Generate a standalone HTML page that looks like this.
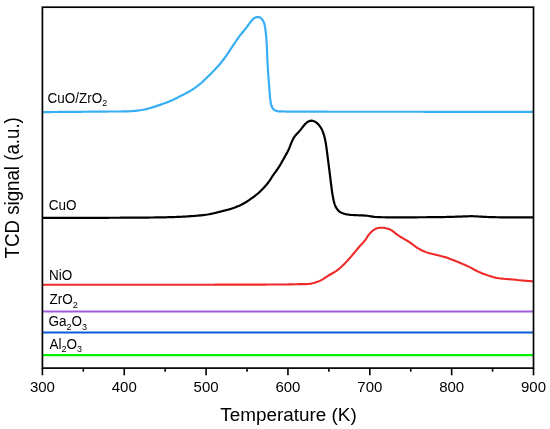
<!DOCTYPE html>
<html><head><meta charset="utf-8"><style>
html,body{margin:0;padding:0;background:#fff;}
svg{display:block;}
text{font-family:"Liberation Sans",Arial,sans-serif;fill:#000;}
</style></head><body>
<svg width="550" height="429" viewBox="0 0 550 429">
<rect x="0" y="0" width="550" height="429" fill="#fff"/>
<g fill="none" stroke-linejoin="round" stroke-linecap="butt">
<line x1="42.4" y1="355.1" x2="533.5" y2="355.1" stroke="#00f000" stroke-width="2.2"/>
<line x1="42.4" y1="332.4" x2="533.5" y2="332.4" stroke="#0c5cd8" stroke-width="2"/>
<line x1="42.4" y1="311.6" x2="533.5" y2="311.6" stroke="#a05ada" stroke-width="2"/>
<path d="M42.40,284.80 L43.91,284.80 L45.41,284.80 L46.92,284.80 L48.44,284.80 L49.95,284.80 L51.48,284.79 L53.00,284.79 L54.53,284.79 L56.06,284.79 L57.59,284.79 L59.13,284.79 L60.67,284.79 L62.21,284.79 L63.75,284.79 L65.30,284.79 L66.85,284.79 L68.40,284.79 L69.95,284.79 L71.51,284.79 L73.06,284.79 L74.62,284.79 L76.18,284.78 L77.74,284.78 L79.31,284.78 L80.87,284.78 L82.44,284.78 L84.00,284.78 L85.57,284.78 L87.14,284.78 L88.71,284.78 L90.28,284.78 L91.85,284.78 L93.42,284.78 L94.99,284.78 L96.56,284.78 L98.13,284.78 L99.70,284.78 L101.27,284.78 L102.84,284.78 L104.41,284.78 L105.98,284.78 L107.54,284.78 L109.11,284.78 L110.68,284.78 L112.24,284.77 L113.81,284.77 L115.37,284.77 L116.93,284.77 L118.49,284.77 L120.05,284.77 L121.61,284.77 L123.16,284.77 L124.72,284.77 L126.27,284.77 L127.82,284.77 L129.36,284.77 L130.91,284.77 L132.45,284.77 L133.99,284.77 L135.52,284.77 L137.06,284.77 L138.59,284.77 L140.12,284.76 L141.64,284.76 L143.16,284.76 L144.68,284.76 L146.19,284.76 L147.70,284.76 L149.21,284.76 L150.71,284.76 L152.21,284.76 L153.71,284.76 L155.20,284.76 L156.68,284.75 L158.16,284.75 L159.64,284.75 L161.11,284.75 L162.58,284.75 L164.05,284.75 L165.50,284.75 L166.96,284.75 L168.40,284.74 L169.85,284.74 L171.28,284.74 L172.71,284.74 L174.14,284.74 L175.56,284.74 L176.97,284.74 L178.38,284.73 L179.78,284.73 L181.18,284.73 L182.57,284.73 L183.95,284.73 L185.33,284.72 L186.70,284.72 L188.06,284.72 L189.41,284.72 L190.76,284.72 L192.10,284.71 L193.44,284.71 L194.76,284.71 L196.08,284.71 L197.40,284.70 L198.75,284.70 L200.20,284.70 L201.77,284.70 L203.45,284.69 L205.18,284.69 L206.92,284.69 L208.67,284.68 L210.42,284.68 L212.18,284.68 L213.95,284.68 L215.72,284.67 L217.49,284.67 L219.27,284.67 L221.04,284.67 L222.82,284.66 L224.59,284.66 L226.37,284.66 L228.14,284.66 L229.91,284.65 L231.67,284.65 L233.43,284.65 L235.18,284.65 L236.93,284.65 L238.67,284.64 L240.40,284.64 L242.12,284.64 L243.82,284.63 L245.52,284.63 L247.21,284.63 L248.88,284.62 L250.54,284.62 L252.18,284.62 L253.81,284.61 L255.41,284.61 L257.01,284.61 L258.58,284.60 L260.13,284.60 L261.67,284.59 L263.18,284.59 L264.67,284.58 L266.13,284.58 L267.58,284.57 L268.99,284.57 L270.38,284.56 L271.75,284.56 L273.09,284.55 L274.39,284.54 L275.67,284.54 L276.92,284.53 L278.14,284.52 L279.32,284.51 L280.47,284.50 L281.59,284.50 L282.67,284.49 L283.72,284.48 L284.73,284.47 L285.70,284.46 L286.64,284.45 L287.53,284.44 L288.41,284.42 L289.38,284.41 L290.64,284.38 L292.22,284.34 L293.95,284.29 L295.59,284.24 L297.11,284.19 L298.57,284.15 L300.06,284.13 L301.57,284.13 L303.10,284.15 L304.61,284.16 L306.11,284.13 L307.62,284.03 L309.15,283.86 L310.69,283.62 L312.22,283.31 L313.73,282.96 L315.24,282.55 L316.75,282.08 L318.25,281.54 L319.74,280.92 L321.22,280.18 L322.71,279.31 L324.20,278.33 L325.69,277.32 L327.14,276.37 L328.50,275.52 L329.83,274.76 L331.15,274.02 L332.49,273.28 L333.82,272.50 L335.13,271.69 L336.42,270.82 L337.71,269.87 L338.99,268.85 L340.24,267.78 L341.47,266.68 L342.67,265.56 L343.85,264.42 L344.99,263.28 L346.10,262.13 L347.19,260.95 L348.27,259.76 L349.35,258.55 L350.43,257.32 L351.51,256.07 L352.61,254.79 L353.70,253.49 L354.80,252.17 L355.89,250.84 L356.97,249.54 L358.04,248.26 L359.11,247.02 L360.18,245.82 L361.25,244.65 L362.30,243.52 L363.31,242.39 L364.27,241.26 L365.19,240.08 L366.06,238.83 L366.89,237.54 L367.74,236.23 L368.69,234.91 L369.78,233.56 L371.02,232.24 L372.34,231.02 L373.74,229.95 L375.18,229.06 L376.67,228.39 L378.23,227.95 L379.88,227.73 L381.64,227.69 L383.45,227.82 L385.21,228.06 L386.86,228.41 L388.39,228.85 L389.85,229.42 L391.27,230.16 L392.69,231.10 L394.10,232.19 L395.52,233.31 L396.93,234.37 L398.34,235.36 L399.78,236.31 L401.26,237.24 L402.75,238.15 L404.24,239.03 L405.72,239.89 L407.20,240.75 L408.67,241.65 L410.13,242.60 L411.58,243.64 L413.03,244.72 L414.46,245.80 L415.90,246.83 L417.34,247.78 L418.78,248.67 L420.23,249.49 L421.67,250.24 L423.10,250.93 L424.53,251.55 L425.98,252.12 L427.43,252.63 L428.88,253.08 L430.32,253.47 L431.80,253.84 L433.30,254.19 L434.84,254.56 L436.43,254.94 L438.12,255.34 L439.86,255.77 L441.61,256.20 L443.31,256.65 L444.93,257.12 L446.47,257.60 L447.95,258.11 L449.41,258.64 L450.87,259.19 L452.34,259.75 L453.83,260.33 L455.35,260.92 L456.90,261.54 L458.45,262.17 L460.00,262.80 L461.54,263.45 L463.08,264.10 L464.61,264.76 L466.13,265.43 L467.63,266.13 L469.11,266.85 L470.58,267.61 L472.03,268.41 L473.47,269.21 L474.92,270.00 L476.39,270.75 L477.87,271.46 L479.36,272.13 L480.88,272.78 L482.42,273.41 L483.95,274.00 L485.48,274.58 L486.99,275.12 L488.49,275.63 L489.98,276.12 L491.48,276.57 L492.99,276.99 L494.50,277.36 L496.01,277.69 L497.52,277.96 L499.04,278.21 L500.56,278.42 L502.08,278.61 L503.60,278.78 L505.11,278.93 L506.63,279.06 L508.15,279.17 L509.67,279.28 L511.18,279.39 L512.69,279.52 L514.19,279.66 L515.69,279.82 L517.19,279.99 L518.70,280.17 L520.25,280.33 L521.82,280.49 L523.42,280.63 L525.06,280.77 L526.73,280.90 L528.41,281.03 L530.11,281.15 L531.81,281.27 L533.50,281.40" stroke="#ee2a2a" stroke-width="2.1"/>
<path d="M42.40,217.80 L43.92,217.80 L45.45,217.80 L46.98,217.80 L48.52,217.80 L50.06,217.80 L51.61,217.80 L53.16,217.80 L54.71,217.80 L56.27,217.81 L57.83,217.81 L59.39,217.81 L60.95,217.81 L62.51,217.81 L64.07,217.81 L65.63,217.81 L67.19,217.81 L68.75,217.81 L70.30,217.82 L71.85,217.82 L73.40,217.82 L74.94,217.82 L76.48,217.82 L78.02,217.82 L79.54,217.82 L81.06,217.82 L82.58,217.82 L84.09,217.82 L85.58,217.82 L87.07,217.82 L88.55,217.82 L90.02,217.82 L91.48,217.81 L92.93,217.81 L94.37,217.81 L95.79,217.81 L97.21,217.81 L98.64,217.80 L100.13,217.80 L101.71,217.80 L103.34,217.79 L104.99,217.79 L106.64,217.78 L108.28,217.78 L109.91,217.77 L111.53,217.76 L113.14,217.76 L114.74,217.75 L116.33,217.75 L117.91,217.74 L119.48,217.73 L121.03,217.72 L122.57,217.72 L124.10,217.71 L125.62,217.70 L127.12,217.69 L128.61,217.68 L130.09,217.67 L131.55,217.66 L132.99,217.65 L134.42,217.64 L135.84,217.63 L137.24,217.62 L138.67,217.61 L140.17,217.60 L141.77,217.59 L143.44,217.57 L145.12,217.56 L146.79,217.54 L148.44,217.53 L150.07,217.51 L151.67,217.50 L153.24,217.48 L154.80,217.46 L156.33,217.45 L157.83,217.43 L159.31,217.40 L160.77,217.38 L162.20,217.36 L163.64,217.33 L165.12,217.30 L166.65,217.26 L168.21,217.22 L169.75,217.18 L171.25,217.13 L172.72,217.09 L174.18,217.04 L175.62,216.98 L177.07,216.93 L178.54,216.86 L180.02,216.80 L181.52,216.73 L183.03,216.65 L184.55,216.57 L186.07,216.49 L187.59,216.41 L189.10,216.32 L190.60,216.22 L192.08,216.12 L193.57,216.01 L195.08,215.89 L196.64,215.76 L198.24,215.62 L199.83,215.47 L201.41,215.32 L202.95,215.15 L204.45,214.98 L205.96,214.77 L207.54,214.53 L209.23,214.23 L210.98,213.88 L212.71,213.50 L214.36,213.12 L215.92,212.74 L217.41,212.36 L218.88,211.97 L220.34,211.59 L221.80,211.21 L223.26,210.85 L224.72,210.50 L226.18,210.15 L227.64,209.77 L229.11,209.37 L230.57,208.93 L232.03,208.46 L233.49,207.96 L234.95,207.44 L236.40,206.88 L237.85,206.29 L239.30,205.67 L240.74,205.01 L242.18,204.30 L243.62,203.53 L245.08,202.68 L246.54,201.77 L248.00,200.81 L249.43,199.83 L250.80,198.86 L252.12,197.93 L253.38,197.02 L254.62,196.11 L255.84,195.19 L257.04,194.23 L258.23,193.22 L259.43,192.13 L260.62,191.00 L261.77,189.83 L262.91,188.66 L264.02,187.46 L265.14,186.25 L266.23,185.00 L267.29,183.73 L268.30,182.45 L269.23,181.17 L270.10,179.88 L270.95,178.55 L271.80,177.22 L272.66,175.90 L273.55,174.59 L274.46,173.31 L275.40,172.04 L276.34,170.77 L277.26,169.50 L278.14,168.21 L278.99,166.92 L279.79,165.60 L280.58,164.28 L281.34,162.96 L282.09,161.65 L282.84,160.33 L283.59,159.00 L284.34,157.66 L285.07,156.33 L285.81,154.99 L286.54,153.65 L287.27,152.29 L287.97,150.91 L288.65,149.50 L289.27,148.06 L289.86,146.60 L290.44,145.12 L291.03,143.64 L291.65,142.14 L292.32,140.64 L293.03,139.16 L293.81,137.73 L294.73,136.38 L295.81,135.07 L297.01,133.78 L298.25,132.47 L299.50,131.08 L300.71,129.62 L301.84,128.17 L302.87,126.81 L303.86,125.54 L304.87,124.36 L305.97,123.25 L307.16,122.26 L308.51,121.42 L310.02,120.85 L311.69,120.68 L313.40,120.98 L315.01,121.68 L316.42,122.61 L317.65,123.69 L318.76,124.87 L319.80,126.15 L320.76,127.52 L321.62,129.02 L322.39,130.62 L323.05,132.29 L323.61,133.93 L324.08,135.49 L324.48,136.99 L324.84,138.48 L325.17,139.99 L325.47,141.52 L325.74,143.07 L326.00,144.67 L326.25,146.30 L326.48,147.93 L326.71,149.55 L326.93,151.17 L327.14,152.81 L327.36,154.48 L327.57,156.17 L327.78,157.87 L328.00,159.56 L328.21,161.22 L328.42,162.88 L328.63,164.54 L328.85,166.21 L329.06,167.88 L329.28,169.56 L329.49,171.23 L329.70,172.89 L329.90,174.54 L330.10,176.18 L330.30,177.82 L330.49,179.45 L330.69,181.08 L330.89,182.70 L331.10,184.32 L331.31,185.95 L331.52,187.60 L331.74,189.28 L331.97,190.94 L332.20,192.60 L332.45,194.22 L332.72,195.83 L333.02,197.42 L333.34,199.00 L333.68,200.58 L334.06,202.13 L334.47,203.63 L334.97,205.10 L335.63,206.62 L336.49,208.20 L337.56,209.73 L338.84,211.06 L340.29,212.13 L341.89,212.95 L343.59,213.58 L345.35,214.05 L347.16,214.40 L348.98,214.66 L350.78,214.86 L352.52,215.01 L354.21,215.11 L355.87,215.19 L357.56,215.25 L359.32,215.30 L361.18,215.36 L363.11,215.44 L365.08,215.57 L367.04,215.77 L368.97,216.02 L370.84,216.31 L372.65,216.59 L374.41,216.83 L376.14,217.00 L377.84,217.11 L379.38,217.17 L380.62,217.21 L381.63,217.23 L382.59,217.25 L383.61,217.26 L384.70,217.27 L385.88,217.28 L387.13,217.29 L388.45,217.30 L389.84,217.31 L391.28,217.31 L392.78,217.32 L394.33,217.32 L395.92,217.33 L397.56,217.33 L399.23,217.33 L400.94,217.33 L402.67,217.32 L404.43,217.32 L406.21,217.32 L408.00,217.31 L409.80,217.31 L411.61,217.30 L413.42,217.30 L415.23,217.29 L417.02,217.28 L418.81,217.27 L420.57,217.26 L422.32,217.25 L424.04,217.24 L425.73,217.23 L427.38,217.22 L429.00,217.21 L430.57,217.20 L432.09,217.18 L433.56,217.17 L434.97,217.16 L436.31,217.14 L437.61,217.13 L438.91,217.11 L440.34,217.09 L441.95,217.07 L443.67,217.04 L445.40,217.01 L447.06,216.97 L448.66,216.93 L450.20,216.89 L451.69,216.85 L453.14,216.81 L454.55,216.77 L455.94,216.72 L457.31,216.68 L458.69,216.64 L460.13,216.59 L461.63,216.54 L463.16,216.47 L464.67,216.41 L466.15,216.34 L467.60,216.28 L469.05,216.24 L470.53,216.22 L472.05,216.22 L473.61,216.26 L475.20,216.32 L476.80,216.40 L478.42,216.50 L480.04,216.61 L481.68,216.71 L483.31,216.81 L484.89,216.89 L486.39,216.95 L487.83,217.01 L489.24,217.05 L490.65,217.10 L492.09,217.14 L493.56,217.18 L495.08,217.21 L496.65,217.24 L498.25,217.27 L499.79,217.29 L501.22,217.31 L502.57,217.32 L503.93,217.33 L505.31,217.34 L506.74,217.35 L508.20,217.35 L509.70,217.35 L511.22,217.35 L512.77,217.35 L514.34,217.35 L515.93,217.34 L517.53,217.34 L519.14,217.34 L520.76,217.33 L522.38,217.32 L524.00,217.32 L525.61,217.31 L527.22,217.31 L528.81,217.31 L530.39,217.30 L531.95,217.30 L533.50,217.30" stroke="#000" stroke-width="2.2"/>
<path d="M42.40,112.10 L43.91,112.09 L45.42,112.08 L46.94,112.06 L48.46,112.05 L49.99,112.04 L51.52,112.03 L53.05,112.02 L54.58,112.01 L56.11,111.99 L57.64,111.98 L59.17,111.97 L60.70,111.96 L62.22,111.95 L63.75,111.93 L65.26,111.92 L66.77,111.91 L68.28,111.90 L69.77,111.89 L71.26,111.87 L72.74,111.86 L74.22,111.85 L75.68,111.84 L77.13,111.83 L78.59,111.81 L80.08,111.80 L81.63,111.78 L83.23,111.77 L84.86,111.75 L86.50,111.74 L88.15,111.72 L89.79,111.70 L91.43,111.68 L93.07,111.66 L94.68,111.65 L96.28,111.63 L97.85,111.61 L99.39,111.59 L100.89,111.58 L102.35,111.56 L103.76,111.55 L105.12,111.54 L106.43,111.53 L107.68,111.52 L108.94,111.51 L110.30,111.50 L111.79,111.50 L113.33,111.50 L114.82,111.50 L116.26,111.51 L117.69,111.50 L119.14,111.49 L120.63,111.48 L122.13,111.46 L123.65,111.43 L125.17,111.40 L126.68,111.35 L128.20,111.29 L129.72,111.23 L131.24,111.16 L132.75,111.07 L134.27,110.97 L135.79,110.84 L137.30,110.67 L138.82,110.48 L140.34,110.26 L141.86,110.01 L143.38,109.73 L144.89,109.42 L146.41,109.07 L147.92,108.69 L149.44,108.27 L150.96,107.83 L152.48,107.36 L153.99,106.88 L155.50,106.40 L157.00,105.91 L158.51,105.41 L160.01,104.90 L161.51,104.38 L163.01,103.84 L164.52,103.28 L166.05,102.70 L167.60,102.10 L169.14,101.49 L170.67,100.86 L172.18,100.21 L173.70,99.51 L175.27,98.75 L176.85,97.95 L178.44,97.13 L180.03,96.31 L181.66,95.49 L183.29,94.67 L184.91,93.86 L186.46,93.04 L187.91,92.25 L189.29,91.46 L190.64,90.66 L191.97,89.83 L193.31,88.97 L194.64,88.08 L195.97,87.16 L197.28,86.20 L198.57,85.22 L199.81,84.22 L200.99,83.22 L202.12,82.21 L203.22,81.18 L204.32,80.13 L205.41,79.06 L206.51,77.99 L207.63,76.90 L208.74,75.80 L209.86,74.69 L210.98,73.56 L212.09,72.43 L213.20,71.29 L214.31,70.15 L215.42,68.99 L216.53,67.82 L217.62,66.64 L218.70,65.44 L219.75,64.22 L220.76,63.01 L221.74,61.78 L222.71,60.54 L223.67,59.28 L224.62,58.00 L225.56,56.69 L226.51,55.36 L227.46,53.99 L228.40,52.58 L229.35,51.15 L230.28,49.71 L231.22,48.27 L232.16,46.83 L233.10,45.42 L234.03,44.02 L234.97,42.64 L235.90,41.26 L236.84,39.90 L237.79,38.55 L238.74,37.23 L239.70,35.94 L240.66,34.70 L241.63,33.49 L242.61,32.30 L243.59,31.13 L244.55,29.97 L245.50,28.80 L246.46,27.58 L247.44,26.28 L248.42,24.93 L249.38,23.59 L250.36,22.25 L251.44,20.85 L252.68,19.44 L254.09,18.19 L255.59,17.34 L257.11,16.97 L258.57,17.05 L259.93,17.53 L261.17,18.34 L262.27,19.48 L263.21,20.93 L263.95,22.65 L264.51,24.50 L264.90,26.35 L265.19,28.07 L265.41,29.69 L265.60,31.28 L265.78,32.87 L265.96,34.49 L266.13,36.14 L266.29,37.82 L266.43,39.54 L266.56,41.28 L266.68,43.04 L266.78,44.74 L266.85,46.31 L266.92,47.80 L266.97,49.29 L267.02,50.83 L267.07,52.40 L267.12,53.99 L267.18,55.58 L267.24,57.16 L267.31,58.75 L267.39,60.35 L267.48,61.97 L267.57,63.60 L267.67,65.22 L267.77,66.85 L267.88,68.48 L267.99,70.13 L268.10,71.78 L268.21,73.43 L268.33,75.08 L268.45,76.74 L268.57,78.41 L268.69,80.09 L268.82,81.76 L268.95,83.42 L269.07,85.08 L269.20,86.75 L269.33,88.44 L269.46,90.17 L269.59,91.90 L269.72,93.61 L269.85,95.27 L270.00,96.87 L270.16,98.44 L270.37,100.09 L270.63,101.84 L270.97,103.66 L271.41,105.46 L272.03,107.18 L272.93,108.70 L274.15,109.88 L275.66,110.68 L277.35,111.12 L279.12,111.32 L280.84,111.40 L282.41,111.44 L283.86,111.48 L285.31,111.50 L286.82,111.53 L288.39,111.54 L290.01,111.56 L291.65,111.57 L293.28,111.59 L294.84,111.60 L296.29,111.61 L297.63,111.62 L298.92,111.63 L300.19,111.64 L301.48,111.65 L302.80,111.66 L304.19,111.66 L305.66,111.67 L307.25,111.68 L308.97,111.68 L310.82,111.69 L312.68,111.69 L314.31,111.70 L315.54,111.70 L316.44,111.70 L317.22,111.71 L317.99,111.71 L318.79,111.71 L319.61,111.71 L320.45,111.71 L321.31,111.71 L322.19,111.72 L323.09,111.72 L324.01,111.72 L324.95,111.72 L325.91,111.72 L326.89,111.72 L327.89,111.73 L328.91,111.73 L329.94,111.73 L331.00,111.73 L332.07,111.73 L333.16,111.73 L334.27,111.73 L335.39,111.73 L336.53,111.74 L337.69,111.74 L338.87,111.74 L340.06,111.74 L341.27,111.74 L342.50,111.74 L343.74,111.74 L344.99,111.74 L346.26,111.74 L347.55,111.75 L348.85,111.75 L350.17,111.75 L351.50,111.75 L352.84,111.75 L354.20,111.75 L355.58,111.75 L356.96,111.75 L358.36,111.75 L359.77,111.75 L361.20,111.75 L362.64,111.76 L364.09,111.76 L365.55,111.76 L367.02,111.76 L368.51,111.76 L370.01,111.76 L371.52,111.76 L373.04,111.76 L374.57,111.76 L376.11,111.76 L377.66,111.76 L379.22,111.76 L380.79,111.76 L382.37,111.76 L383.96,111.76 L385.56,111.77 L387.17,111.77 L388.78,111.77 L390.41,111.77 L392.04,111.77 L393.68,111.77 L395.33,111.77 L396.99,111.77 L398.65,111.77 L400.32,111.77 L402.00,111.77 L403.69,111.77 L405.38,111.77 L407.07,111.77 L408.78,111.77 L410.48,111.77 L412.20,111.77 L413.92,111.77 L415.64,111.77 L417.37,111.77 L419.10,111.77 L420.84,111.77 L422.58,111.77 L424.33,111.78 L426.08,111.78 L427.83,111.78 L429.59,111.78 L431.34,111.78 L433.11,111.78 L434.87,111.78 L436.64,111.78 L438.40,111.78 L440.17,111.78 L441.94,111.78 L443.72,111.78 L445.49,111.78 L447.27,111.78 L449.04,111.78 L450.82,111.78 L452.59,111.78 L454.37,111.78 L456.14,111.78 L457.92,111.78 L459.69,111.78 L461.46,111.78 L463.24,111.78 L465.01,111.78 L466.78,111.78 L468.54,111.78 L470.31,111.78 L472.07,111.78 L473.83,111.78 L475.59,111.78 L477.34,111.78 L479.09,111.78 L480.84,111.78 L482.58,111.78 L484.32,111.79 L486.05,111.79 L487.78,111.79 L489.51,111.79 L491.23,111.79 L492.95,111.79 L494.66,111.79 L496.36,111.79 L498.06,111.79 L499.75,111.79 L501.44,111.79 L503.12,111.79 L504.79,111.79 L506.46,111.79 L508.12,111.79 L509.77,111.79 L511.41,111.79 L513.05,111.79 L514.68,111.79 L516.30,111.79 L517.91,111.79 L519.51,111.79 L521.10,111.80 L522.69,111.80 L524.26,111.80 L525.82,111.80 L527.38,111.80 L528.92,111.80 L530.46,111.80 L531.98,111.80 L533.50,111.80" stroke="#38aef4" stroke-width="2.2"/>
</g>
<rect x="42.4" y="7.2" width="491.1" height="360.9" fill="none" stroke="#000" stroke-width="1.7"/>
<g stroke="#000" stroke-width="1.6">
<line x1="42.40" y1="368.1" x2="42.40" y2="375.3"/><line x1="83.32" y1="368.1" x2="83.32" y2="371.7"/><line x1="124.25" y1="368.1" x2="124.25" y2="375.3"/><line x1="165.18" y1="368.1" x2="165.18" y2="371.7"/><line x1="206.10" y1="368.1" x2="206.10" y2="375.3"/><line x1="247.03" y1="368.1" x2="247.03" y2="371.7"/><line x1="287.95" y1="368.1" x2="287.95" y2="375.3"/><line x1="328.88" y1="368.1" x2="328.88" y2="371.7"/><line x1="369.80" y1="368.1" x2="369.80" y2="375.3"/><line x1="410.73" y1="368.1" x2="410.73" y2="371.7"/><line x1="451.65" y1="368.1" x2="451.65" y2="375.3"/><line x1="492.57" y1="368.1" x2="492.57" y2="371.7"/><line x1="533.50" y1="368.1" x2="533.50" y2="375.3"/>
</g>
<g font-size="15">
<text transform="translate(42.40,391.9)" text-anchor="middle">300</text><text transform="translate(124.25,391.9)" text-anchor="middle">400</text><text transform="translate(206.10,391.9)" text-anchor="middle">500</text><text transform="translate(287.95,391.9)" text-anchor="middle">600</text><text transform="translate(369.80,391.9)" text-anchor="middle">700</text><text transform="translate(451.65,391.9)" text-anchor="middle">800</text><text transform="translate(533.50,391.9)" text-anchor="middle">900</text>
</g>
<text transform="translate(220.3,420.7) scale(1,1.02)" font-size="18.9">Temperature (K)</text>
<text transform="translate(18.9,258.4) rotate(-90) scale(1,1.04)" font-size="18.7">TCD signal (a.u.)</text>
<g font-size="13.5">
<text transform="translate(47.5,103.4) scale(1,1.065)">CuO/ZrO<tspan font-size="9" dy="2.9">2</tspan></text>
<text transform="translate(48.8,210.1) scale(1,1.065)">CuO</text>
<text transform="translate(49.1,279.9) scale(1,1.065)">NiO</text>
<text transform="translate(49.6,304.2) scale(1,1.065)">ZrO<tspan font-size="9" dy="3.9">2</tspan></text>
<text transform="translate(48.4,326.3) scale(1,1.065)">Ga<tspan font-size="9" dy="3.9">2</tspan><tspan dy="-3.9">O</tspan><tspan font-size="9" dy="3.9">3</tspan></text>
<text transform="translate(49.6,348.9) scale(1,1.065)">Al<tspan font-size="9" dy="2.6">2</tspan><tspan dy="-2.6">O</tspan><tspan font-size="9" dy="2.6">3</tspan></text>
</g>
</svg>
</body></html>
